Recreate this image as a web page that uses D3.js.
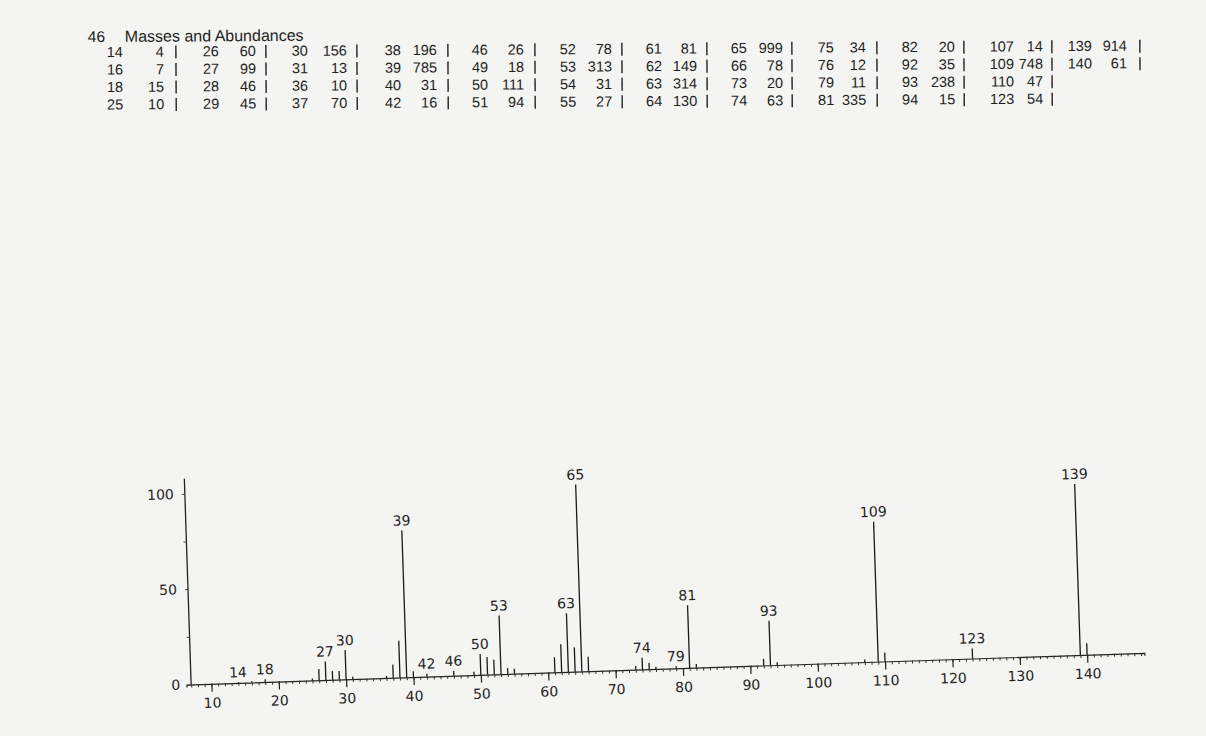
<!DOCTYPE html>
<html>
<head>
<meta charset="utf-8">
<script src="https://cdn.jsdelivr.net/npm/d3@7"></script>
<style>
  html, body { margin: 0; padding: 0; background: #f4f4f2; }
  svg { display: block; }
  .tbl text { font-family: "Liberation Sans", Arial, sans-serif; font-size: 14.5px; fill: #1e1e1e; }
  .chart text { font-family: "DejaVu Sans", sans-serif; font-size: 14px; fill: #1e1e1e; }
</style>
</head>
<body>
<div id="graph"></div>
<script>
var width = 1206, height = 736;

var masses = [14, 16, 18, 25, 26, 27, 28, 29, 30, 31, 36, 37, 38, 39, 40, 42,
  46, 49, 50, 51, 52, 53, 54, 55, 61, 62, 63, 64, 65, 66, 73, 74,
  75, 76, 79, 81, 82, 92, 93, 94, 107, 109, 110, 123, 139, 140];
var abundances = [4, 7, 15, 10, 60, 99, 46, 45, 156, 13, 10, 70, 196, 785, 31, 16,
  26, 18, 111, 94, 78, 313, 31, 27, 81, 149, 314, 130, 999, 78, 20, 63,
  34, 12, 11, 335, 20, 35, 238, 15, 14, 748, 47, 54, 914, 61];
var labelled = [14, 18, 27, 30, 39, 42, 46, 50, 53, 63, 65, 74, 79, 81, 93, 109, 123, 139];
var xTickLabels = [10, 20, 30, 40, 50, 60, 70, 80, 90, 100, 110, 120, 130, 140];
var yTickValues = [0, 25, 50, 75, 100];
var yTickLabels = [0, 50, 100];

var peaks = masses.map(function(m, i) {
  return {mass: m, abund: abundances[i], rel: abundances[i] / 999 * 100};
});

var svg = d3.select("#graph").append("svg")
  .attr("width", width)
  .attr("height", height);

// ---- table ----
var colX = [123, 219, 308, 401, 488, 576, 662, 747, 834, 918, 1014, 1092];
var abX  = [164, 256, 347, 437, 524, 612, 697, 783, 866, 955, 1043, 1127];
var barX = [176, 266, 357, 448, 535, 622, 707, 792, 877, 964, 1052, 1140];
var rowY = [57, 74.5, 92, 109.5];

var tbl = svg.append("g")
  .attr("class", "tbl")
  .attr("transform", "rotate(-0.35,100,70)");

tbl.append("text").attr("x", 88).attr("y", 42).style("font-size", "15.5px").text(masses.length);
tbl.append("text").attr("x", 125).attr("y", 42).style("font-size", "16px").text("Masses and Abundances");

var cells = tbl.selectAll(".cell")
  .data(peaks)
  .enter().append("g")
  .attr("class", "cell")
  .attr("transform", function(d, i) {
    return "translate(0," + rowY[i % 4] + ")";
  });
cells.append("text")
  .attr("x", function(d, i) { return colX[Math.floor(i / 4)]; })
  .attr("text-anchor", "end")
  .text(function(d) { return d.mass; });
cells.append("text")
  .attr("x", function(d, i) { return abX[Math.floor(i / 4)]; })
  .attr("text-anchor", "end")
  .text(function(d) { return d.abund; });
cells.append("line")
  .attr("x1", function(d, i) { return barX[Math.floor(i / 4)]; })
  .attr("x2", function(d, i) { return barX[Math.floor(i / 4)]; })
  .attr("y1", -11)
  .attr("y2", 2)
  .attr("stroke", "#222")
  .attr("stroke-width", 1.4);

// ---- spectrum ----
var unit = 6.74, full = 187;
var x = d3.scaleLinear().domain([6.3, 148.5]).range([6.3 * unit, 148.5 * unit]);
var y = d3.scaleLinear().domain([0, 100]).range([0, -full]);

var chart = svg.append("g")
  .attr("class", "chart")
  .attr("transform", "translate(144,686) rotate(-1.9)");

// minor ticks every 1
chart.append("g")
  .call(d3.axisBottom(x).tickValues(d3.range(7, 149)).tickSize(3).tickFormat(""))
  .call(function(g) {
    g.select(".domain").attr("stroke", "#222").attr("stroke-width", 1.2);
    g.selectAll(".tick line").attr("stroke", "#333");
  });

// major ticks every 10
chart.append("g")
  .call(d3.axisBottom(x).tickValues(xTickLabels).tickSize(8).tickPadding(6))
  .call(function(g) {
    g.select(".domain").remove();
    g.selectAll(".tick line").attr("stroke", "#222").attr("stroke-width", 1.2);
    g.selectAll(".tick text").attr("font-size", 15).attr("fill", "#1e1e1e")
      .attr("font-family", "DejaVu Sans, sans-serif");
  });

// y axis
var yAx = d3.scaleLinear().domain([0, 100]).range([0, -full * 1.02]);
chart.append("g")
  .attr("transform", "translate(" + x(7) + ",0)")
  .call(d3.axisLeft(yAx).tickValues(yTickValues).tickSize(3).tickPadding(8)
    .tickFormat(function(d) { return yTickLabels.indexOf(d) >= 0 ? d : ""; }))
  .call(function(g) {
    g.select(".domain").attr("d", "M0,0V" + (-full * 1.1)).attr("stroke", "#222").attr("stroke-width", 1.3);
    g.selectAll(".tick line").attr("stroke", "#444");
    g.selectAll(".tick text").attr("font-size", 15).attr("fill", "#1e1e1e")
      .attr("font-family", "DejaVu Sans, sans-serif");
  });

// peaks
chart.append("g")
  .selectAll("line")
  .data(peaks)
  .enter().append("line")
  .attr("x1", function(d) { return x(d.mass); })
  .attr("x2", function(d) { return x(d.mass); })
  .attr("y1", 0)
  .attr("y2", function(d) { return y(d.rel); })
  .attr("stroke", "#1a1a1a")
  .attr("stroke-width", 1.3);

// peak labels
chart.append("g")
  .selectAll("text")
  .data(peaks.filter(function(d) { return labelled.indexOf(d.mass) >= 0; }))
  .enter().append("text")
  .attr("x", function(d) { return x(d.mass); })
  .attr("y", function(d) { return y(d.rel) - 5; })
  .attr("text-anchor", "middle")
  .attr("font-size", 15)
  .text(function(d) { return d.mass; });
</script>
</body>
</html>
